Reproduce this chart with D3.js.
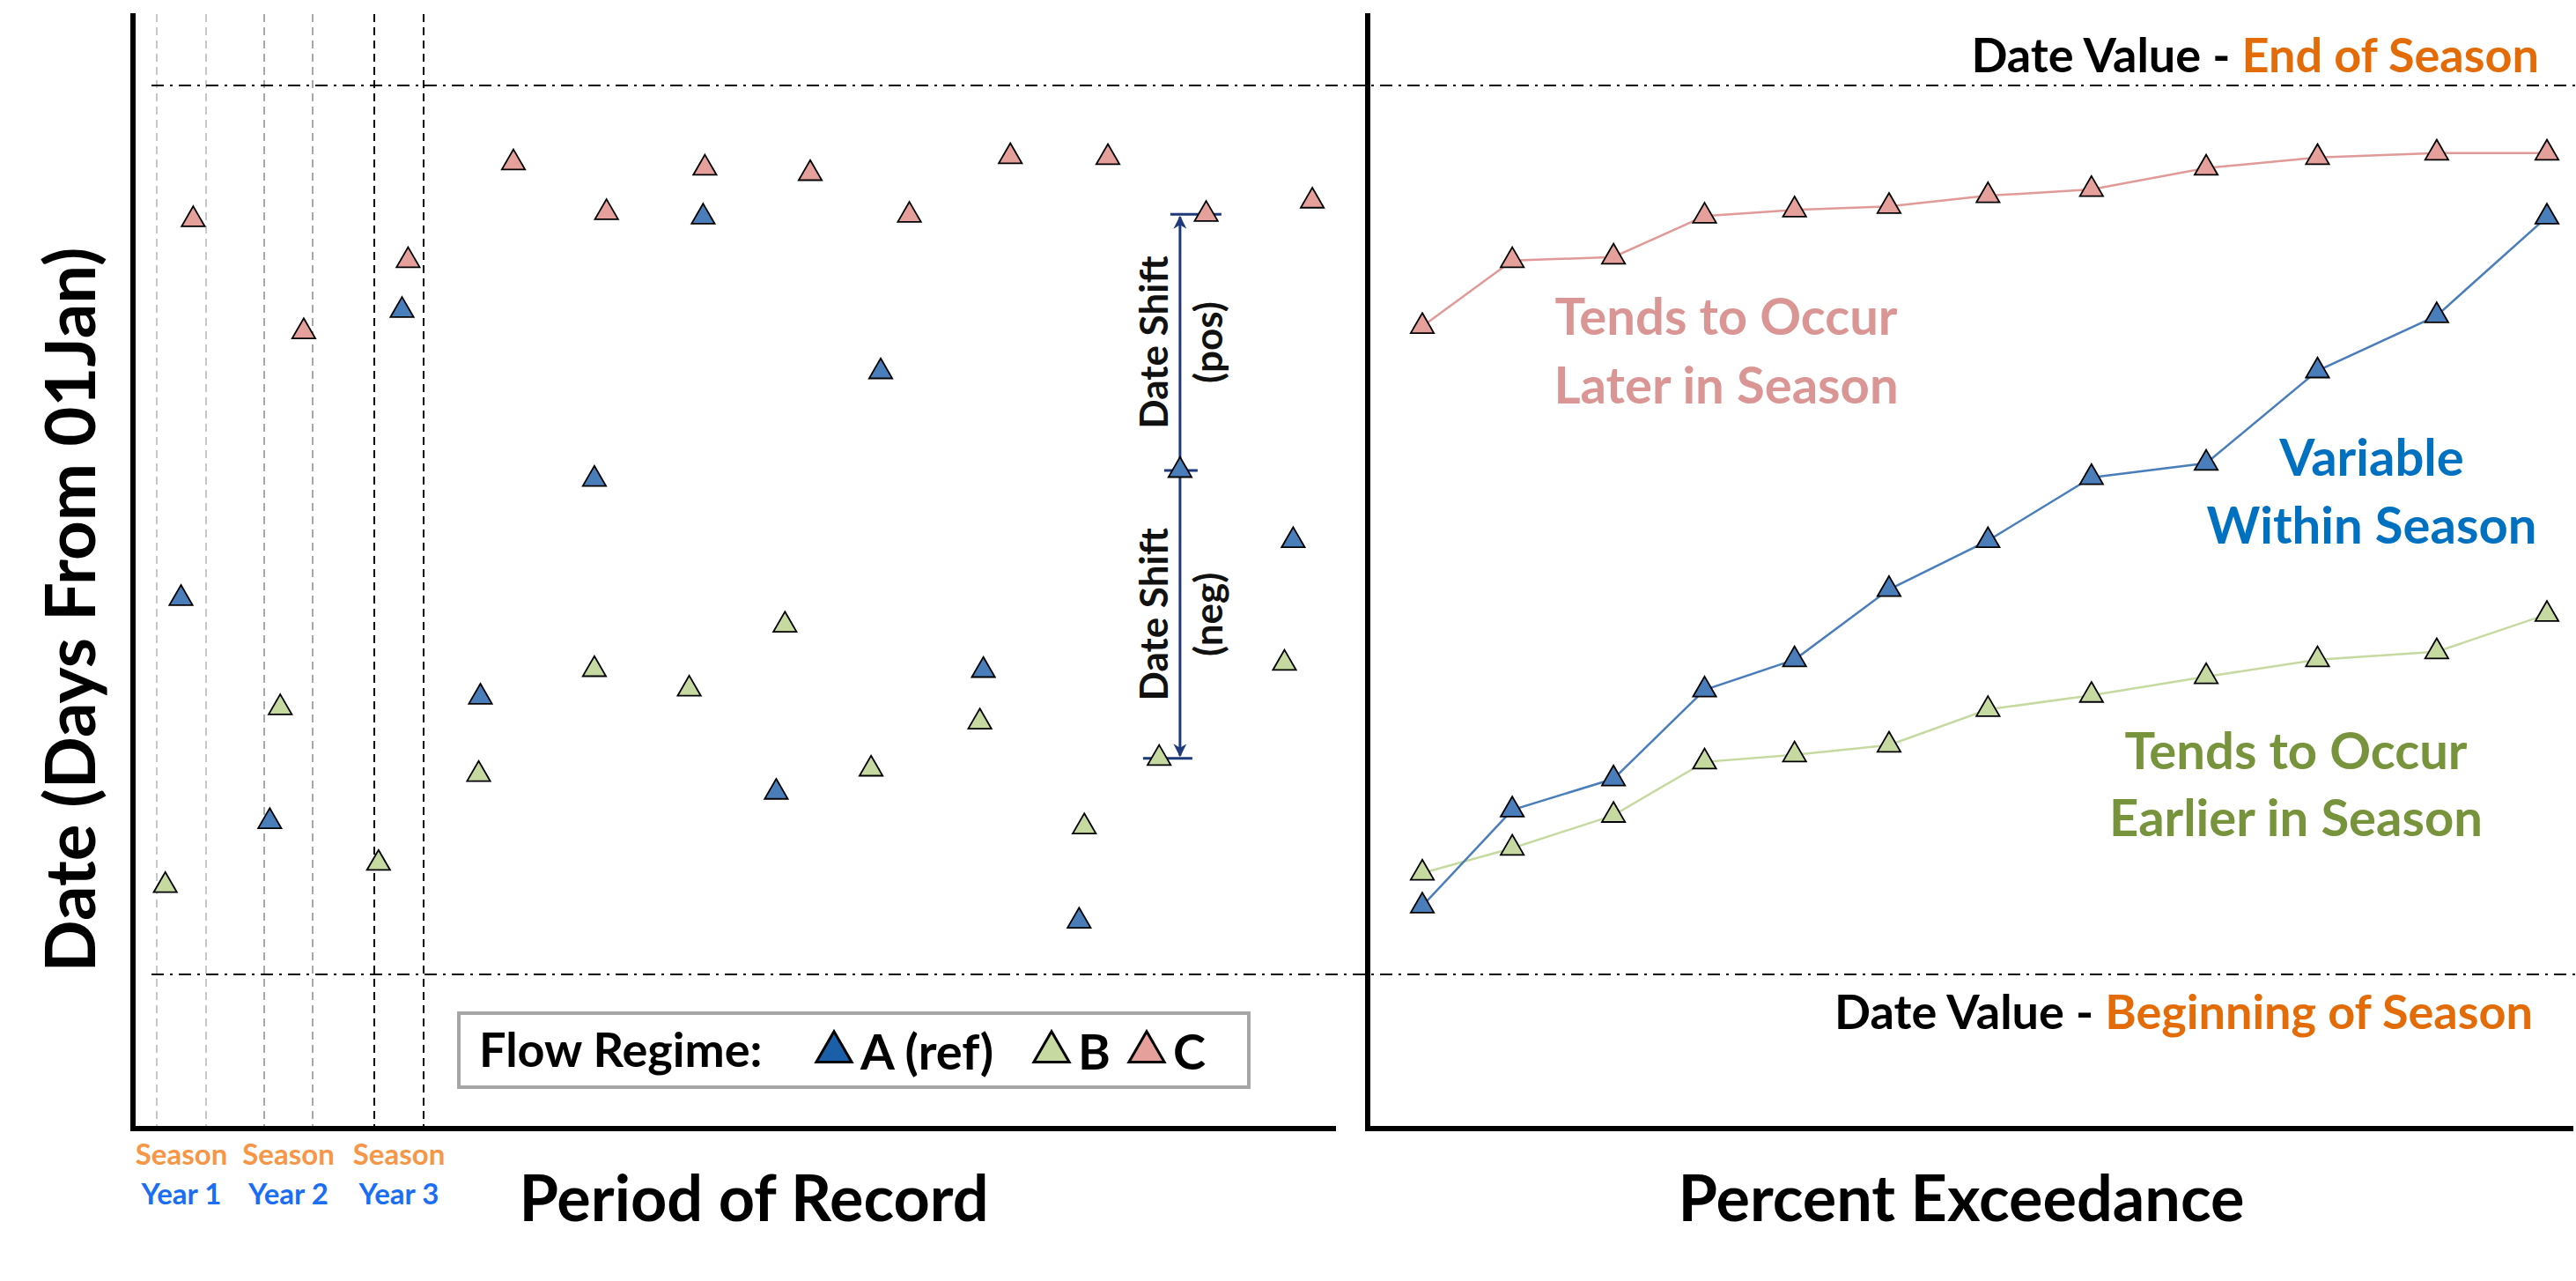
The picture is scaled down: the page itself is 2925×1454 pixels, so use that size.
<!DOCTYPE html>
<html><head><meta charset="utf-8">
<script src="https://cdn.jsdelivr.net/npm/d3@7"></script>
<style>body{margin:0;background:#fff}text{font-family:Lato,"Open Sans",sans-serif;font-weight:bold}</style>
</head><body><svg id="c" width="2925" height="1454"></svg>
<script>
// Left panel: position within period of record, date value (0 = beginning of season, 100 = end)
const recA = [54.5,155.3,305.5,394.5,523.9,647.4,730.4,849,965.6,1074.3,1188.9,1317.4];
const valA = [42.3,17.2,74.7,31.2,55.7,85.2,20.5,67.8,34.2,6.0,56.7,48.8];
const recB = [36.7,167.2,278.8,392.5,523.9,631.6,740.3,838.1,961.6,1080.2,1165.2,1307.5];
const valB = [10.0,30.0,12.5,22.5,34.3,32.1,39.3,23.1,28.4,16.6,24.3,35.0];
const recC = [68.4,193.9,312.4,432,537.7,649.4,769,881.6,996.2,1107,1218.6,1339.1];
const valC = [84.9,72.3,80.3,91.3,85.7,90.7,90.1,85.4,92.0,91.9,85.5,87.0];
// Season boundaries (record position)
const seasonBounds = [[27,83],[149,204],[274,330]];
const seasonLabels = ["Season","Season","Season"];
const yearLabels = ["Year 1","Year 2","Year 3"];
// Right panel: percent exceedance curves
const exceed = [0,8.0,17.0,25.1,33.1,41.5,50.3,59.5,69.7,79.6,90.2,100];
const excA = [7.7,18.5,22.0,32.0,35.4,43.3,48.8,55.9,57.5,67.9,74.1,85.2];
const excB = [11.4,14.2,17.9,23.9,24.7,25.8,29.8,31.4,33.5,35.4,36.3,40.5];
const excC = [72.9,80.3,80.7,85.3,86.0,86.4,87.6,88.3,90.7,91.9,92.4,92.4];
// Date shift illustration: record position and levels (C ref, A ref, B)
const shiftRec = 1188.9;
const shiftLevels = [85.5,56.7,24.3];

const col = {A:"#4a7ebb",B:"#c6d9a0",C:"#e6a09c"};
const lineCol = {A:"#4a7ebb",B:"#c6d9a0",C:"#e09a98"};
const svg = d3.select("#c");
const y = d3.scaleLinear().domain([0,100]).range([1106,97]);
const xL = d3.scaleLinear().domain([0,1366]).range([151,1517]);
const xR = d3.scaleLinear().domain([0,100]).range([1615,2892]);
const tri = d3.symbol().type(d3.symbolTriangle).size(300);

const sCols = ["#c8c8c8","#a8a8a8","#000"];
seasonBounds.forEach((b,i)=>{
  b.forEach(v=>svg.append("line").attr("x1",xL(v)).attr("x2",xL(v)).attr("y1",16).attr("y2",1281)
    .attr("stroke",sCols[i]).attr("stroke-width",2).attr("stroke-dasharray","9,6"));
  const cx = xL((b[0]+b[1])/2);
  svg.append("text").attr("x",cx).attr("y",1322).attr("text-anchor","middle").attr("font-size",33).attr("fill","#f79646").text(seasonLabels[i]);
  svg.append("text").attr("x",cx).attr("y",1367).attr("text-anchor","middle").attr("font-size",33).attr("fill","#1a6ef5").text(yearLabels[i]);
});

[100,0].forEach(v=>svg.append("line").attr("x1",172).attr("x2",2925).attr("y1",y(v)).attr("y2",y(v))
  .attr("stroke","#000").attr("stroke-width",2).attr("stroke-dasharray","14,7,3,7"));

const ax = (x1,y1,x2,y2)=>svg.append("line").attr("x1",x1).attr("y1",y1).attr("x2",x2).attr("y2",y2).attr("stroke","#000").attr("stroke-width",6);
ax(151,15,151,1284); ax(148,1281,1517,1281);
ax(1553,15,1553,1284); ax(1550,1281,2922,1281);

const defs = svg.append("defs");
["up","down"].forEach(id=>defs.append("marker").attr("id",id).attr("viewBox","0 0 10 10").attr("refX",9).attr("refY",5)
  .attr("markerWidth",5).attr("markerHeight",5).attr("orient","auto").append("path").attr("d","M0,0L10,5L0,10L3,5Z").attr("fill","#1f3a7a"));
const ax0 = xL(shiftRec);
svg.append("line").attr("x1",ax0).attr("x2",ax0).attr("y1",y(shiftLevels[1])).attr("y2",y(shiftLevels[0])+3).attr("stroke","#1f3a7a").attr("stroke-width",3).attr("marker-end","url(#up)");
svg.append("line").attr("x1",ax0).attr("x2",ax0).attr("y1",y(shiftLevels[1])).attr("y2",y(shiftLevels[2])-3).attr("stroke","#1f3a7a").attr("stroke-width",3).attr("marker-end","url(#down)");
[[-11,47],[-18,20],[-42,14]].forEach((o,i)=>svg.append("line").attr("x1",ax0+o[0]).attr("x2",ax0+o[1]).attr("y1",y(shiftLevels[i])).attr("y2",y(shiftLevels[i])).attr("stroke","#1f3a7a").attr("stroke-width",3));
const rot=(x,yy,t)=>svg.append("text").attr("transform",`translate(${x},${yy}) rotate(-90)`).attr("text-anchor","middle").attr("font-size",44).attr("fill","#111").text(t);
const mid1=(y(shiftLevels[0])+y(shiftLevels[1]))/2, mid2=(y(shiftLevels[1])+y(shiftLevels[2]))/2;
rot(ax0-14,mid1,"Date Shift"); rot(ax0+48,mid1,"(pos)");
rot(ax0-14,mid2,"Date Shift"); rot(ax0+48,mid2,"(neg)");

function pts(xs,vs,c,xs2){
  svg.append("g").selectAll("path").data(vs).join("path")
    .attr("transform",(d,i)=>`translate(${xs2(xs[i])},${y(d)})`).attr("d",tri)
    .attr("fill",c).attr("stroke","#000").attr("stroke-width",1.8);
}
pts(recA,valA,col.A,xL); pts(recB,valB,col.B,xL); pts(recC,valC,col.C,xL);

[[excB,"B"],[excA,"A"],[excC,"C"]].forEach(([vs,k])=>{
  svg.append("path").datum(vs).attr("fill","none").attr("stroke",lineCol[k]).attr("stroke-width",2.5)
    .attr("d",d3.line().x((d,i)=>xR(exceed[i])).y(d=>y(d)));
  pts(exceed,vs,col[k],xR);
});

svg.append("rect").attr("x",521).attr("y",1150).attr("width",897).attr("height",84).attr("fill","#fff").attr("stroke","#a6a6a6").attr("stroke-width",4);
svg.append("text").attr("x",544).attr("y",1211).attr("font-size",54).text("Flow Regime:");
[["A",947,"A (ref)"],["B",1194,"B"],["C",1302,"C"]].forEach(([k,x,t])=>{
  svg.append("path").attr("transform",`translate(${x},${1194})`).attr("d",d3.symbol().type(d3.symbolTriangle).size(700))
    .attr("fill",k==="A"?"#1a5fa8":col[k]).attr("stroke","#000").attr("stroke-width",3);
  svg.append("text").attr("x",x+30).attr("y",1214).attr("font-size",56).text(t);
});

svg.append("text").attr("transform","translate(108,692) rotate(-90)").attr("text-anchor","middle").attr("font-size",78).text("Date (Days From 01Jan)");
svg.append("text").attr("x",856).attr("y",1386).attr("text-anchor","middle").attr("font-size",72).text("Period of Record");
svg.append("text").attr("x",2227).attr("y",1386).attr("text-anchor","middle").attr("font-size",72).text("Percent Exceedance");

const ann=(x,yy,parts,anchor,size)=>{const t=svg.append("text").attr("x",x).attr("y",yy).attr("text-anchor",anchor).attr("font-size",size);
  parts.forEach(p=>t.append("tspan").attr("fill",p[1]).text(p[0]));};
ann(2883,82,[["Date Value - ","#000"],["End of Season","#e36c09"]],"end",54);
ann(2876,1168,[["Date Value - ","#000"],["Beginning of Season","#e36c09"]],"end",54);
ann(1960,380,[["Tends to Occur","#d99694"]],"middle",58);
ann(1960,458,[["Later in Season","#d99694"]],"middle",58);
ann(2693,540,[["Variable","#0070c0"]],"middle",58);
ann(2693,617,[["Within Season","#0070c0"]],"middle",58);
ann(2607,873,[["Tends to Occur","#77933c"]],"middle",58);
ann(2607,949,[["Earlier in Season","#77933c"]],"middle",58);
</script></body></html>
